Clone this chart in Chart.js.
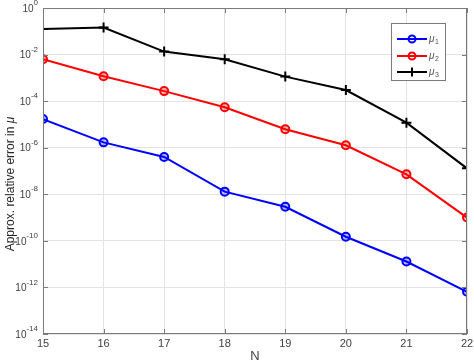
<!DOCTYPE html>
<html>
<head>
<meta charset="utf-8">
<script src="https://cdn.jsdelivr.net/npm/chart.js@4.4.1/dist/chart.umd.min.js"></script>
<style>
  html, body { margin: 0; padding: 0; background: #fff; }
  canvas { display: block; }
</style>
</head>
<body>
<canvas id="myChart" width="474" height="364"></canvas>
<script>
// data
const nValues = [15, 16, 17, 18, 19, 20, 21, 22]
const mu1 = [1.7e-5, 1.7e-6, 4.0e-7, 1.3e-8, 2.9e-9, 1.5e-10, 1.3e-11, 6.5e-13]
const mu2 = [6.3e-3, 1.17e-3, 2.7e-4, 5.5e-5, 6.2e-6, 1.27e-6, 7.2e-8, 1.0e-9]
const mu3 = [0.126, 0.144, 0.0134, 6.3e-3, 1.13e-3, 3.0e-4, 1.19e-5, 1.3e-7]
const yTickExps = [0, -2, -4, -6, -8, -10, -12, -14]
const seriesNames = ['1', '2', '3']

const FONT = '"Liberation Sans", Arial, sans-serif'
const textColor = '#404040'

function toPoints(vals) {
    return vals.map((v, i) => ({x: nValues[i], y: v}))
}

// matlab-like frame, ticks, labels and legend
const matlabDecor = {
    id: 'matlabDecor',
    afterDraw(chart) {
        const ctx = chart.ctx
        const a = chart.chartArea
        const xs = chart.scales.x
        const ys = chart.scales.y
        ctx.save()

        // box
        ctx.strokeStyle = '#7a7a7a'
        ctx.lineWidth = 1
        ctx.strokeRect(a.left + 0.5, a.top + 0.5, a.right - a.left - 1, a.bottom - a.top - 1)

        // inner ticks
        ctx.beginPath()
        for (let n of nValues) {
            let px = Math.round(xs.getPixelForValue(n)) + 0.5
            ctx.moveTo(px, a.bottom); ctx.lineTo(px, a.bottom - 5)
            ctx.moveTo(px, a.top); ctx.lineTo(px, a.top + 5)
        }
        for (let e of yTickExps) {
            let py = Math.round(ys.getPixelForValue(Math.pow(10, e))) + 0.5
            ctx.moveTo(a.left, py); ctx.lineTo(a.left + 5, py)
            ctx.moveTo(a.right, py); ctx.lineTo(a.right - 5, py)
        }
        ctx.stroke()

        // x tick labels
        ctx.fillStyle = textColor
        ctx.font = '11px ' + FONT
        ctx.textAlign = 'center'
        ctx.textBaseline = 'middle'
        for (let n of nValues) {
            ctx.fillText(String(n), xs.getPixelForValue(n), a.bottom + 10)
        }
        ctx.font = '13px ' + FONT
        ctx.fillText('N', (a.left + a.right) / 2, a.bottom + 22)

        // y tick labels 10^e
        for (let e of yTickExps) {
            let py = ys.getPixelForValue(Math.pow(10, e))
            let expText = e === 0 ? '0' : '-' + Math.abs(e)
            ctx.font = '8px ' + FONT
            let ew = ctx.measureText(expText).width
            ctx.textAlign = 'left'
            ctx.textBaseline = 'middle'
            let right = a.left - 5
            ctx.fillText(expText, right - ew, py - 5)
            ctx.font = '10px ' + FONT
            let bw = ctx.measureText('10').width
            ctx.fillText('10', right - ew - bw, py + 1)
        }

        // y title
        ctx.save()
        ctx.translate(11, (a.top + a.bottom) / 2 + 13)
        ctx.rotate(-Math.PI / 2)
        ctx.font = '12px ' + FONT
        let t1 = 'Approx. relative error in '
        let w1 = ctx.measureText(t1).width
        ctx.font = 'italic 12px ' + FONT
        let w2 = ctx.measureText('μ').width
        ctx.textAlign = 'left'
        ctx.textBaseline = 'middle'
        ctx.font = '12px ' + FONT
        ctx.fillStyle = '#262626'
        ctx.fillText(t1, -(w1 + w2) / 2, 0)
        ctx.font = 'italic 12px ' + FONT
        ctx.fillText('μ', -(w1 + w2) / 2 + w1, 0)
        ctx.restore()

        // legend
        const box = {x: 391, y: 23, w: 54, h: 57}
        ctx.fillStyle = '#fff'
        ctx.fillRect(box.x, box.y, box.w, box.h)
        ctx.strokeStyle = '#7a7a7a'
        ctx.lineWidth = 1
        ctx.strokeRect(box.x + 0.5, box.y + 0.5, box.w, box.h)
        const rows = [39, 56, 72]
        chart.data.datasets.forEach((ds, i) => {
            let y = rows[i]
            ctx.strokeStyle = ds.borderColor
            ctx.lineWidth = 2
            ctx.beginPath()
            ctx.moveTo(397, y); ctx.lineTo(427, y)
            ctx.stroke()
            if (ds.pointStyle === 'cross') {
                ctx.beginPath()
                ctx.moveTo(412, y - 4.5); ctx.lineTo(412, y + 4.5)
                ctx.moveTo(407.5, y); ctx.lineTo(416.5, y)
                ctx.stroke()
            } else {
                ctx.beginPath()
                ctx.arc(412, y, 3.5, 0, Math.PI * 2)
                ctx.stroke()
            }
            ctx.fillStyle = '#555'
            ctx.textAlign = 'left'
            ctx.textBaseline = 'middle'
            ctx.font = 'italic 10px ' + FONT
            ctx.fillText('μ', 429, y)
            ctx.font = '7px ' + FONT
            ctx.fillText(seriesNames[i], 435, y + 3)
        })

        ctx.restore()
    }
}

const ctx = document.getElementById('myChart')
const myChart = new Chart(ctx, {
    type: 'line',
    data: {
        datasets: [
            {
                label: 'mu1',
                data: toPoints(mu1),
                borderColor: '#0000ff',
                backgroundColor: 'rgba(0,0,255,0)',
                pointBackgroundColor: 'rgba(0,0,255,0.25)',
                borderWidth: 2,
                pointRadius: 4,
                pointBorderWidth: 2,
                pointStyle: 'circle'
            },
            {
                label: 'mu2',
                data: toPoints(mu2),
                borderColor: '#ff0000',
                backgroundColor: 'rgba(255,0,0,0)',
                pointBackgroundColor: 'rgba(255,0,0,0.25)',
                borderWidth: 2,
                pointRadius: 4,
                pointBorderWidth: 2,
                pointStyle: 'circle'
            },
            {
                label: 'mu3',
                data: toPoints(mu3),
                borderColor: '#000000',
                backgroundColor: '#000000',
                borderWidth: 2,
                pointRadius: 5,
                pointBorderWidth: 2,
                pointStyle: 'cross'
            }
        ]
    },
    options: {
        responsive: false,
        animation: false,
        devicePixelRatio: 1,
        layout: {padding: {top: 8, right: 7, left: 0, bottom: 0}},
        plugins: {legend: {display: false}, tooltip: {enabled: false}},
        elements: {line: {tension: 0}},
        scales: {
            x: {
                type: 'linear',
                min: 15,
                max: 22,
                afterBuildTicks: (scale) => { scale.ticks = nValues.map(v => ({value: v})) },
                afterFit: (scale) => { scale.height = 30 },
                ticks: {display: false},
                grid: {color: '#e3e3e3', drawTicks: false},
                border: {display: false}
            },
            y: {
                type: 'logarithmic',
                min: 1e-14,
                max: 1,
                afterBuildTicks: (scale) => { scale.ticks = yTickExps.map(e => ({value: Math.pow(10, e)})) },
                afterFit: (scale) => { scale.width = 43 },
                ticks: {display: false},
                grid: {color: '#e3e3e3', drawTicks: false},
                border: {display: false}
            }
        }
    },
    plugins: [matlabDecor]
})
</script>
</body>
</html>
